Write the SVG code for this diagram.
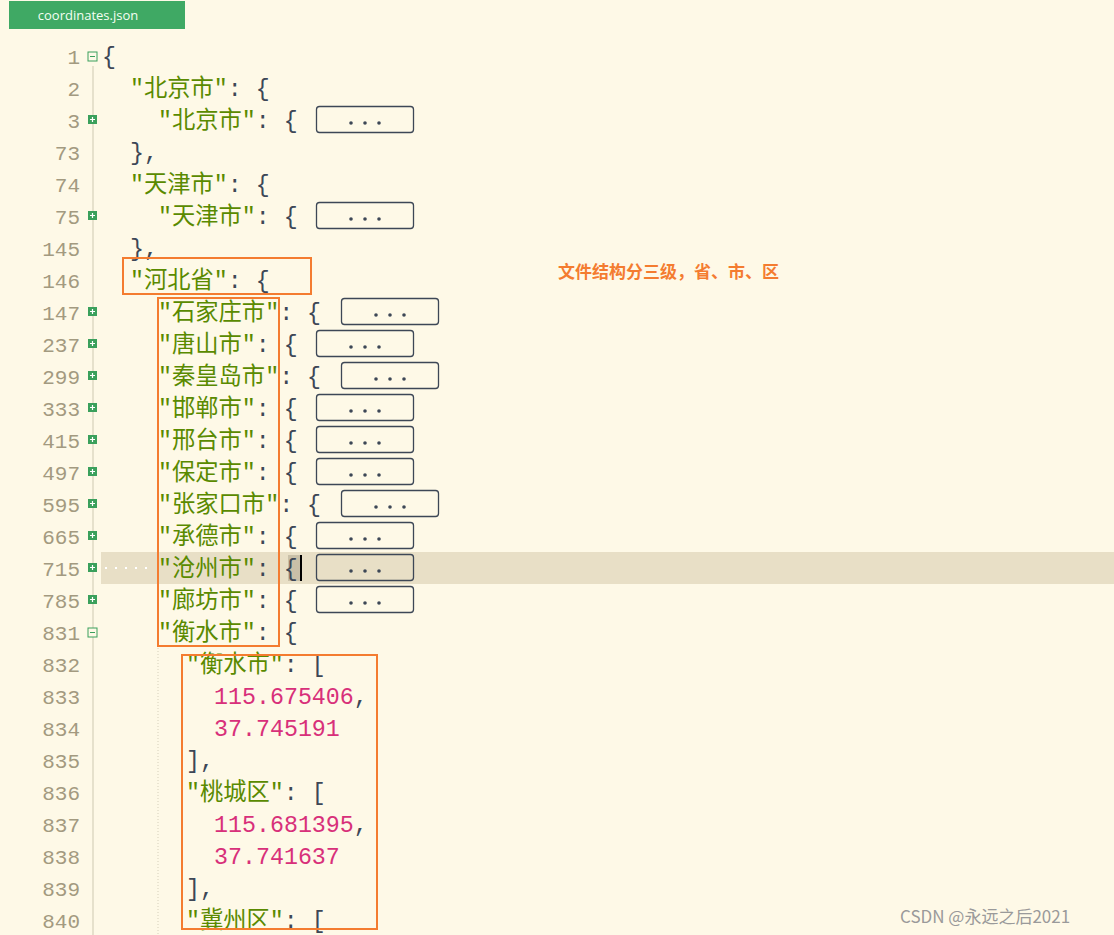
<svg xmlns="http://www.w3.org/2000/svg" width="1114" height="935" viewBox="0 0 1114 935">
<style>
.c{font-family:"Liberation Mono","Noto Sans CJK SC",monospace;font-size:23.3px;fill:#3d4756}
.n{font-family:"Liberation Mono",monospace;font-size:21px;fill:#a39a80;text-anchor:end}
.s{fill:#5a8a00}.m{fill:#d8307a}
.bx{fill:none;stroke:#3d4756;stroke-width:1.3}
.dt{fill:#3d4756}
.or{fill:none;stroke:#f47c30;stroke-width:2}
.pl{fill:#3aa05c}
</style>
<rect width="1114" height="935" fill="#fef9e7"/>
<g id="tab"><rect x="9" y="1" width="176" height="28" fill="#3fa964"/><text x="88" y="20" font-family="Open Sans,sans-serif" font-size="13" fill="#f4fff2" text-anchor="middle">coordinates.json</text></g>
<rect x="101" y="552" width="1013" height="32" fill="#e8dfc6"/>
<line x1="93" y1="66" x2="93" y2="935" stroke="#d6d0bb" stroke-width="1.2"/>
<line x1="158" y1="648" x2="158" y2="935" stroke="#d6d0bb" stroke-dasharray="1 2"/>
<line x1="105" y1="568" x2="155" y2="568" stroke="#fff" stroke-dasharray="2 8" stroke-width="2"/>
<g id="numbers">
<text class="n" x="80" y="64">1</text><text class="n" x="80" y="96">2</text><text class="n" x="80" y="128">3</text><text class="n" x="80" y="160">73</text><text class="n" x="80" y="192">74</text><text class="n" x="80" y="224">75</text><text class="n" x="80" y="256">145</text><text class="n" x="80" y="288">146</text><text class="n" x="80" y="320">147</text><text class="n" x="80" y="352">237</text><text class="n" x="80" y="384">299</text><text class="n" x="80" y="416">333</text><text class="n" x="80" y="448">415</text><text class="n" x="80" y="480">497</text><text class="n" x="80" y="512">595</text><text class="n" x="80" y="544">665</text><text class="n" x="80" y="576">715</text><text class="n" x="80" y="608">785</text><text class="n" x="80" y="640">831</text><text class="n" x="80" y="672">832</text><text class="n" x="80" y="704">833</text><text class="n" x="80" y="736">834</text><text class="n" x="80" y="768">835</text><text class="n" x="80" y="800">836</text><text class="n" x="80" y="832">837</text><text class="n" x="80" y="864">838</text><text class="n" x="80" y="896">839</text><text class="n" x="80" y="928">840</text>
</g>
<g id="folds">
<rect x="88" y="52" width="9" height="9" fill="#fef9e7" stroke="#3aa05c"/><line x1="90" y1="56.5" x2="95" y2="56.5" stroke="#3aa05c"/>
<rect x="88" y="628" width="9" height="9" fill="#fef9e7" stroke="#3aa05c"/><line x1="90" y1="632.5" x2="95" y2="632.5" stroke="#3aa05c"/>
<g fill="#3aa05c"><rect x="88" y="115" width="9" height="9"/><rect x="88" y="211" width="9" height="9"/><rect x="88" y="307" width="9" height="9"/><rect x="88" y="339" width="9" height="9"/><rect x="88" y="371" width="9" height="9"/><rect x="88" y="403" width="9" height="9"/><rect x="88" y="435" width="9" height="9"/><rect x="88" y="467" width="9" height="9"/><rect x="88" y="499" width="9" height="9"/><rect x="88" y="531" width="9" height="9"/><rect x="88" y="563" width="9" height="9"/><rect x="88" y="595" width="9" height="9"/></g>
<g stroke="#fff" stroke-width="1.2"><path d="M90 119.5h5M92.5 117v5M90 215.5h5M92.5 213v5M90 311.5h5M92.5 309v5M90 343.5h5M92.5 341v5M90 375.5h5M92.5 373v5M90 407.5h5M92.5 405v5M90 439.5h5M92.5 437v5M90 471.5h5M92.5 469v5M90 503.5h5M92.5 501v5M90 535.5h5M92.5 533v5M90 567.5h5M92.5 565v5M90 599.5h5M92.5 597v5"/></g>
</g>
<rect x="288" y="555" width="14" height="26" fill="#c9c0a8"/>
<g id="code">
<text class="c" x="102" y="64">{</text>
<text class="c" x="130" y="96"><tspan class="s">"北京市"</tspan>: {</text>
<text class="c" x="158" y="128"><tspan class="s">"北京市"</tspan>: {</text>
<text class="c" x="130" y="160">},</text>
<text class="c" x="130" y="192"><tspan class="s">"天津市"</tspan>: {</text>
<text class="c" x="158" y="224"><tspan class="s">"天津市"</tspan>: {</text>
<text class="c" x="130" y="256">},</text>
<text class="c" x="130" y="288"><tspan class="s">"河北省"</tspan>: {</text>
<text class="c" x="158" y="320"><tspan class="s">"石家庄市"</tspan>: {</text>
<text class="c" x="158" y="352"><tspan class="s">"唐山市"</tspan>: {</text>
<text class="c" x="158" y="384"><tspan class="s">"秦皇岛市"</tspan>: {</text>
<text class="c" x="158" y="416"><tspan class="s">"邯郸市"</tspan>: {</text>
<text class="c" x="158" y="448"><tspan class="s">"邢台市"</tspan>: {</text>
<text class="c" x="158" y="480"><tspan class="s">"保定市"</tspan>: {</text>
<text class="c" x="158" y="512"><tspan class="s">"张家口市"</tspan>: {</text>
<text class="c" x="158" y="544"><tspan class="s">"承德市"</tspan>: {</text>
<text class="c" x="158" y="576"><tspan class="s">"沧州市"</tspan>: {</text>
<text class="c" x="158" y="608"><tspan class="s">"廊坊市"</tspan>: {</text>
<text class="c" x="158" y="640"><tspan class="s">"衡水市"</tspan>: {</text>
<text class="c" x="186" y="672"><tspan class="s">"衡水市"</tspan>: [</text>
<text class="c m" x="214" y="704">115.675406<tspan fill="#3d4756">,</tspan></text>
<text class="c m" x="214" y="736">37.745191</text>
<text class="c" x="186" y="768">],</text>
<text class="c" x="186" y="800"><tspan class="s">"桃城区"</tspan>: [</text>
<text class="c m" x="214" y="832">115.681395<tspan fill="#3d4756">,</tspan></text>
<text class="c m" x="214" y="864">37.741637</text>
<text class="c" x="186" y="896">],</text>
<text class="c" x="186" y="928"><tspan class="s">"冀州区"</tspan>: [</text>
</g>
<line x1="301" y1="555" x2="301" y2="581" stroke="#000" stroke-width="2"/>
<g id="collapsed">
<g class="bx"><rect x="316.5" y="106.5" width="97" height="26" rx="3"/><rect x="316.5" y="202.5" width="97" height="26" rx="3"/><rect x="341.5" y="298.5" width="97" height="26" rx="3"/><rect x="316.5" y="330.5" width="97" height="26" rx="3"/><rect x="341.5" y="362.5" width="97" height="26" rx="3"/><rect x="316.5" y="394.5" width="97" height="26" rx="3"/><rect x="316.5" y="426.5" width="97" height="26" rx="3"/><rect x="316.5" y="458.5" width="97" height="26" rx="3"/><rect x="341.5" y="490.5" width="97" height="26" rx="3"/><rect x="316.5" y="522.5" width="97" height="26" rx="3"/><rect x="316.5" y="554.5" width="97" height="26" rx="3"/><rect x="316.5" y="586.5" width="97" height="26" rx="3"/></g>
<g class="dt">
<circle cx="351" cy="123" r="1.8"/><circle cx="365" cy="123" r="1.8"/><circle cx="379" cy="123" r="1.8"/>
<circle cx="351" cy="219" r="1.8"/><circle cx="365" cy="219" r="1.8"/><circle cx="379" cy="219" r="1.8"/>
<circle cx="376" cy="315" r="1.8"/><circle cx="390" cy="315" r="1.8"/><circle cx="404" cy="315" r="1.8"/>
<circle cx="351" cy="347" r="1.8"/><circle cx="365" cy="347" r="1.8"/><circle cx="379" cy="347" r="1.8"/>
<circle cx="376" cy="379" r="1.8"/><circle cx="390" cy="379" r="1.8"/><circle cx="404" cy="379" r="1.8"/>
<circle cx="351" cy="411" r="1.8"/><circle cx="365" cy="411" r="1.8"/><circle cx="379" cy="411" r="1.8"/>
<circle cx="351" cy="443" r="1.8"/><circle cx="365" cy="443" r="1.8"/><circle cx="379" cy="443" r="1.8"/>
<circle cx="351" cy="475" r="1.8"/><circle cx="365" cy="475" r="1.8"/><circle cx="379" cy="475" r="1.8"/>
<circle cx="376" cy="507" r="1.8"/><circle cx="390" cy="507" r="1.8"/><circle cx="404" cy="507" r="1.8"/>
<circle cx="351" cy="539" r="1.8"/><circle cx="365" cy="539" r="1.8"/><circle cx="379" cy="539" r="1.8"/>
<circle cx="351" cy="571" r="1.8"/><circle cx="365" cy="571" r="1.8"/><circle cx="379" cy="571" r="1.8"/>
<circle cx="351" cy="603" r="1.8"/><circle cx="365" cy="603" r="1.8"/><circle cx="379" cy="603" r="1.8"/>
</g>
</g>
<g id="annotations">
<rect class="or" x="123" y="258" width="188" height="36"/>
<rect class="or" x="158" y="298" width="121" height="348"/>
<rect class="or" x="182" y="655" width="195" height="274"/>
<text x="558" y="278" font-family="Noto Sans CJK SC,sans-serif" font-size="17" font-weight="bold" fill="#f47c30">文件结构分三级，省、市、区</text>
</g>
<text x="900" y="923" font-family="Noto Sans CJK SC,sans-serif" font-size="17" fill="#9a9a9a">CSDN @永远之后2021</text>
</svg>
